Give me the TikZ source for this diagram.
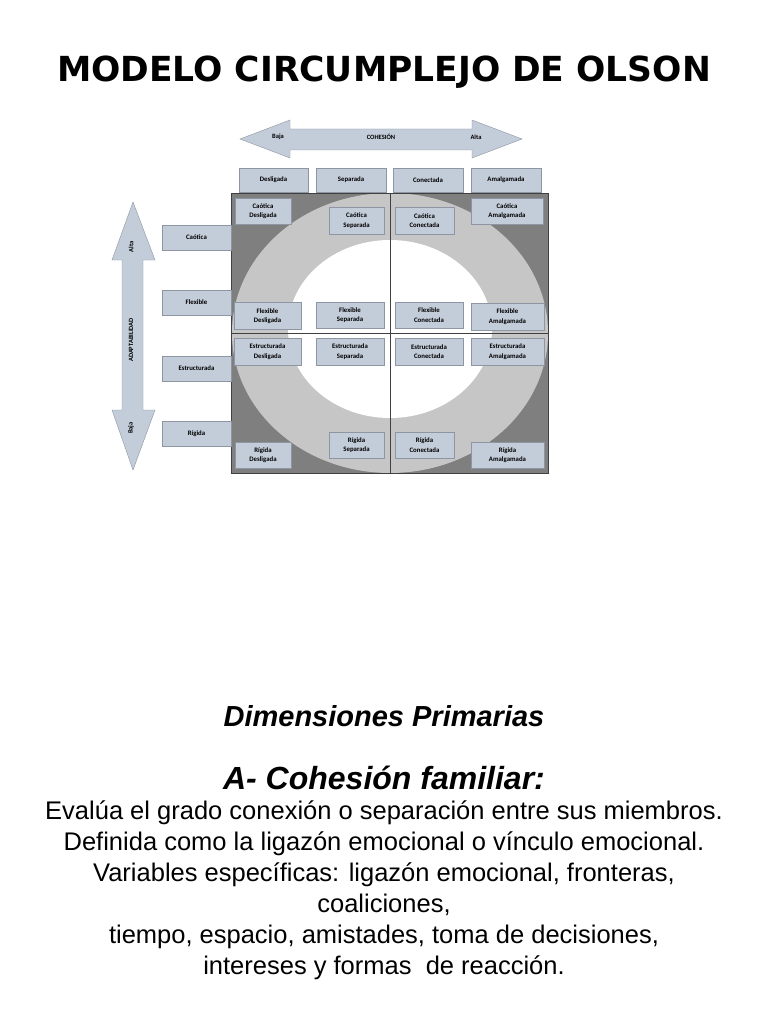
\documentclass[tikz,border=0pt]{standalone}
\usepackage{fontspec}
\setmainfont{Liberation Sans}
\newfontfamily\diafont{Carlito}
\newfontfamily\titlefont{DejaVu Sans}
\definecolor{boxblue}{HTML}{C3CCD9}
\definecolor{boxline}{HTML}{8E96A3}
\definecolor{darkgr}{HTML}{7F7F7F}
\definecolor{ringgr}{HTML}{C6C6C6}
\tikzset{
  lbl/.style={draw=boxline,fill=boxblue,inner sep=0pt,align=center,font=\diafont\bfseries\fontsize{6.8}{9.5}\selectfont},
  body/.style={font=\fontsize{25.5}{31}\selectfont,align=center}
}
\begin{document}
\begin{tikzpicture}[x=1pt,y=-1pt]
\useasboundingbox (0,0) rectangle (768,1024);
\fill[white] (0,0) rectangle (768,1024);
\node[font=\titlefont\bfseries\fontsize{34.5}{38}\selectfont] (title) at (384,72) {MODELO CIRCUMPLEJO DE OLSON};

% square and ellipses
\fill[darkgr] (231,193) rectangle (548,473);
\fill[ringgr] (390,333) ellipse [x radius=158,y radius=140];
\fill[white] (390,329) ellipse [x radius=102,y radius=89];
\draw[black!75,line width=0.8pt] (231,193) rectangle (548,473);
\draw[black!75,line width=0.8pt] (390,193) -- (390,473) (231,333) -- (548,333);

% arrows
\fill[boxblue,draw=boxline] (240,139) -- (290,120) -- (290,129) -- (472,129) -- (472,120) -- (522,139)
  -- (472,158) -- (472,150) -- (290,150) -- (290,158) -- cycle;
\fill[boxblue,draw=boxline] (133,202) -- (155,260) -- (143,260) -- (143,410) -- (155,410) -- (133,470)
  -- (112,410) -- (122,410) -- (122,260) -- (112,260) -- cycle;
\path[font=\diafont\bfseries\fontsize{6.5}{7}\selectfont]
  (278,137) node (baja) {Baja} (381,137) node (coh) {COHESIÓN} (476,137) node (alta) {Alta};
\path[font=\diafont\bfseries\fontsize{6.5}{7}\selectfont]
  (131,340) node[rotate=90] (adap) {ADAPTABILIDAD}
  (131,247) node[rotate=90] (altav) {Alta}
  (131,428) node[rotate=90] (bajav) {Baja};

% column and row labels
\foreach \x/\w/\t in {273.5/69/Desligada,351/70/Separada,428/70/Conectada,506/70/Amalgamada}
  \node[lbl,minimum width=\w,minimum height=24] (col-\t) at (\x,180) {\t};
\foreach \y/\t in {237.5/Caótica,302.5/Flexible,368.5/Estructurada,433.5/Rígida}
  \node[lbl,minimum width=69,minimum height=25] (row-\t) at (196.5,\y) {\t};

% cells
\foreach \x/\y/\w/\h/\t in {
  263/211/56/26/{Caótica\\Desligada},356.5/220.5/55/27/{Caótica\\Separada},
  424.5/220.5/59/27/{Caótica\\Conectada},507/211/72/26/{Caótica\\Amalgamada},
  267.5/316/67/27/{Flexible\\Desligada},350/315/68/26/{Flexible\\Separada},
  429/315/68/26/{Flexible\\Conectada},507.5/316.5/73/27/{Flexible\\Amalgamada},
  267.5/351.5/67/27/{Estructurada\\Desligada},350/351.5/68/27/{Estructurada\\Separada},
  429/351.5/68/27/{Estructurada\\Conectada},507.5/351.5/73/27/{Estructurada\\Amalgamada},
  263/455/56/26/{Rígida\\Desligada},356.5/445/55/26/{Rígida\\Separada},
  424.5/445/59/26/{Rígida\\Conectada},507.5/455/73/26/{Rígida\\Amalgamada}}
  \node[lbl,minimum width=\w,minimum height=\h] at (\x,\y) {\t};

% text
\node[font=\bfseries\itshape\fontsize{29}{33}\selectfont] (dim) at (384,716) {Dimensiones Primarias};
\node[font=\bfseries\itshape\fontsize{32}{36}\selectfont] (coh2) at (384,778) {A- Cohesión familiar:};
\node[body,anchor=north] (txt) at (384,797) {Evalúa el grado conexión o separación entre sus miembros.\\
Definida como la ligazón emocional o vínculo emocional.\\
Variables específicas: ligazón emocional, fronteras,\\
coaliciones,\\
tiempo, espacio, amistades, toma de decisiones,\\
intereses y formas~ de reacción.};
\end{tikzpicture}
\end{document}
